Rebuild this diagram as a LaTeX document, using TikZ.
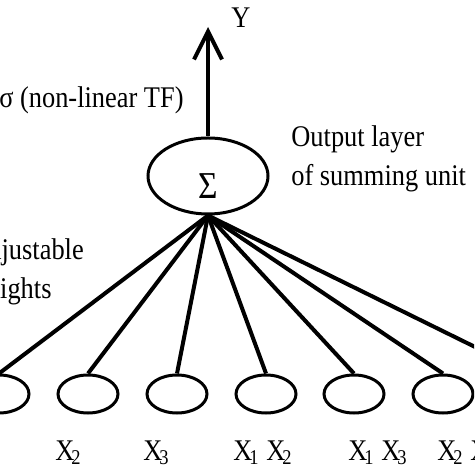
\documentclass[tikz,border=0pt]{standalone}
\usepackage{fontspec}
\setmainfont{Liberation Serif}[FakeStretch=0.88]
\usetikzlibrary{arrows.meta,shapes.geometric}

\begin{document}
\begin{tikzpicture}[x=0.5pt,y=-0.5pt,
    font=\fontsize{15pt}{19.5pt}\selectfont]
\path[use as bounding box, clip] (0,0) rectangle (474,474);

\begin{scope}[every node/.style={ellipse,draw,line width=1.5pt,inner sep=0pt,
              minimum width=30pt,minimum height=19pt}]
    \node[minimum width=60pt,minimum height=38pt] (S) at (208,176) {};
    \node (N1) at (-1,394) {};
    \node (N2) at (88,394) {};
    \node (N3) at (177,394) {};
    \node (N4) at (266,394) {};
    \node (N5) at (354,394) {};
    \node (N6) at (443,394) {};
\end{scope}
\coordinate (N7) at (532,375);
\coordinate (YT) at (208,27);

\begin{scope}[every node/.style={inner sep=0pt}]
    \node[font=\fontsize{19pt}{20pt}\selectfont] (SUM) at ([yshift=-5pt]S.center) {Σ};
    \node (Y) at (241,18) {Y};
    \node[anchor=east] (TF) at (184,100) {σ (non-linear TF)};
    \node[anchor=north west,align=left] (OUT) at (291,125) {Output layer\\of summing unit};
    \node[anchor=north west,align=left] (ADJ) at (-31,238) {Adjustable\\weights};
    % inputs
    \node[anchor=base west] (L2) at (55,460) {X\kern-1.5pt\textsubscript{2}};
    \node[anchor=base west] (L3) at (143,460) {X\kern-1.5pt\textsubscript{3}};
    \node[anchor=base west] (L4) at (233,460) {X\kern-1.5pt\textsubscript{1} X\kern-1.5pt\textsubscript{2}};
    \node[anchor=base west] (L5) at (348,460) {X\kern-1.5pt\textsubscript{1} X\kern-1.5pt\textsubscript{3}};
    \node[anchor=base west] (L6) at (437,460) {X\kern-1.5pt\textsubscript{2} X\kern-1.5pt\textsubscript{3}};
\end{scope}

\begin{scope}[every edge/.style={draw,line width=2pt}]
    % output
    \path [-{Straight Barb[length=14pt,width=14pt]}, line width=2.5pt] (S) edge (YT);
    % weights
    \path (N1.north) edge (S.south);
    \path (N2.north) edge (S.south);
    \path (N3.north) edge (S.south);
    \path (N4.north) edge (S.south);
    \path (N5.north) edge (S.south);
    \path (N6.north) edge (S.south);
    \path (N7) edge (S.south);
\end{scope}
\end{tikzpicture}
\end{document}
